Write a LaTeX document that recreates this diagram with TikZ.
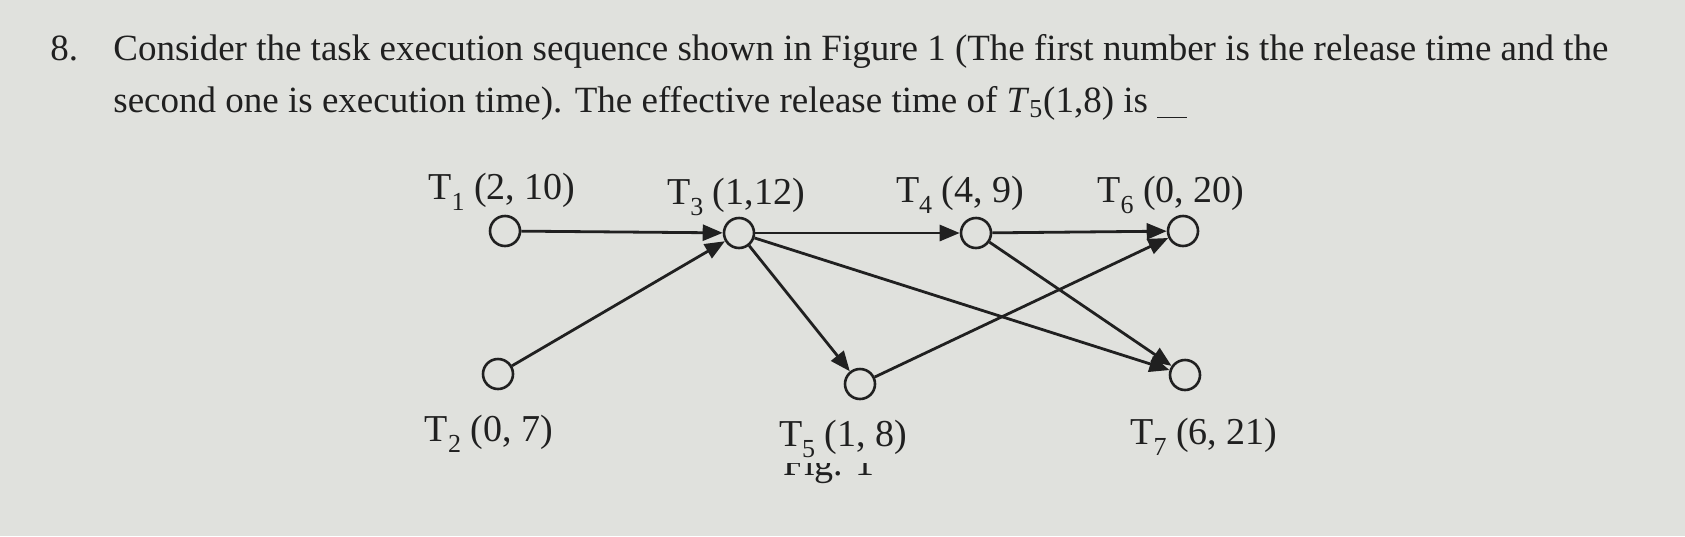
\documentclass[tikz,border=0pt]{standalone}
\usepackage{fontspec}
\setmainfont{Liberation Serif}
\usetikzlibrary{arrows.meta}
\definecolor{paper}{RGB}{224,225,221}
\definecolor{ink}{RGB}{32,32,32}
\newcommand{\tsub}[1]{\raisebox{-5.5pt}{\fontsize{13}{13}\selectfont #1}}

\begin{document}
\begin{tikzpicture}[x=0.5pt, y=-0.5pt,
    task/.style={circle, draw=ink, line width=1.3pt, minimum size=15pt, inner sep=0pt},
    edge/.style={draw=ink, line width=1.4pt, -{Triangle[length=10pt,width=8pt]}},
    tag/.style={anchor=base, text=ink, inner sep=0pt, font=\fontsize{19}{22}\selectfont},
    txt/.style={anchor=base west, text=ink, inner sep=0pt, font=\fontsize{18.5}{22}\selectfont}]
    \fill[paper] (0,0) rectangle (1685,536);
    \useasboundingbox (0,0) rectangle (1685,536);

    % question text
    \node[txt] (num) at (50,60) {8.};
    \node[txt] (line1) at (113,60) {Consider the task execution sequence shown in Figure 1 (The first number is the release time and the};
    \node[txt] (line2) at (113,112) {second one is execution time). The effective release time of \textit{T}\textsubscript{5}(1,8) is \rule[-3pt]{15pt}{0.7pt}};

    % tasks
    \foreach \n/\x/\y in {t1/505/231, t3/739/233, t4/976/233, t6/1183/231, t2/498/374, t5/860/384, t7/1185/375}
        \node[task] (\n) at (\x,\y) {};

    % release time, execution time
    \foreach \n/\x/\y/\rt in {1/502/199/{(2, 10)}, 3/736/204/{(1,12)}, 4/960/202/{(4, 9)}, 6/1171/202/{(0, 20)},
                              2/489/441/{(0, 7)}, 5/843/446/{(1, 8)}, 7/1204/444/{(6, 21)}}
        \node[tag] (l\n) at (\x,\y) {T\tsub{\n} \rt};

    \foreach \a/\b in {t1/t3, t2/t3, t3/t4, t3/t5, t3/t7, t4/t6, t4/t7, t5/t6}
        \draw[edge] (\a) -- (\b);

    % caption, half hidden under the T5 label
    \begin{scope}
        \clip (700,463) rectangle (1000,536);
        \node[tag] (fig) at (829,475) {Fig. 1};
    \end{scope}
\end{tikzpicture}
\end{document}
